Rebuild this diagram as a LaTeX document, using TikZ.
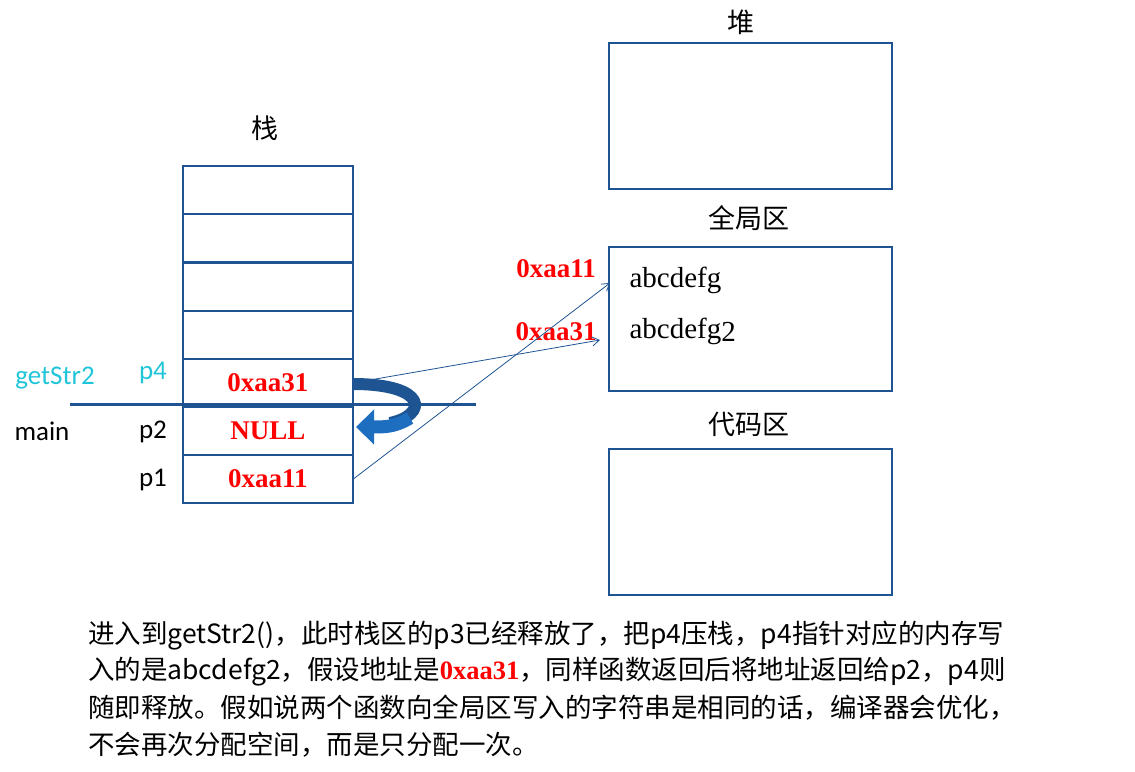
\documentclass[tikz,border=0pt]{standalone}
\usepackage{fontspec}
\setmainfont{Liberation Serif}
\newfontfamily\cjk{Noto Sans CJK SC}
\newfontfamily\calfnt{Carlito}
\usetikzlibrary{arrows.meta}
\definecolor{bl}{HTML}{1F5493}
\definecolor{ar}{HTML}{1E6EC0}
\definecolor{cy}{HTML}{1FC5D8}
\begin{document}
\begin{tikzpicture}[x=1pt,y=-1pt,
 cell/.style={draw=bl,line width=1.6pt,minimum width=170pt,minimum height=48pt,inner sep=0,anchor=north west},
 box/.style={draw=bl,line width=1.6pt,minimum width=283pt,minimum height=146pt,inner sep=0,anchor=north west},
 val/.style={text=red,font=\fontsize{27}{30}\selectfont\bfseries},
 lab/.style={font=\fontsize{29}{32}\selectfont},
 side/.style={font=\calfnt\fontsize{27}{30}\selectfont},
 cn/.style={font=\cjk\fontsize{27}{30}\selectfont},
 txt/.style={anchor=west,inner sep=0,font=\cjk\fontsize{26.5}{30}\selectfont}]
\useasboundingbox (0,0) rectangle (1135,771);
\foreach \i/\y in {1/165,2/213,3/262,4/310,5/358,6/406,7/454}{
 \node[cell] (c\i) at (182,\y) {};}
\node[val] at (c5) {0xaa31};
\node[val] at (c6) {NULL};
\node[val] at (c7) {0xaa11};
\node[cn] (zh) at (265,128) {栈};
\draw[bl,line width=3pt] (70,404) -- (476,404);
\node[side,text=cy] (gs) at (55,378) {getStr2};
\node[side,text=cy] (p4) at (153,373) {p4};
\node[side] (mn) at (42,431) {main};
\node[side] (p2) at (153,432) {p2};
\node[side] (p1) at (153,480) {p1};
\node[box] (heap) at (608,42) {};
\node[box,minimum height=144pt] (glob) at (608,246) {};
\node[box] (code) at (608,448) {};
\node[cn] at (741,22) {堆};
\node[cn] at (749,218) {全局区};
\node[cn] at (749,424) {代码区};
\node[lab,anchor=west] (s1) at (626,280) {abcdefg};
\node[lab,anchor=west] (s2) at (626,331) {abcdefg\raisebox{-3pt}{2}};
\node[val] (a11) at (556,269) {0xaa11};
\node[val] (a31) at (556,332) {0xaa31};
\coordinate (t11) at (610,283);
\coordinate (t31) at (600,340);
\draw[bl,line width=0.8pt,-{Straight Barb[length=7pt,width=9pt]}] (c5.east) -- (t31);
\draw[bl,line width=0.8pt,-{Straight Barb[length=7pt,width=9pt]}] (c7.east) -- (t11);
\draw[draw=bl,line width=12pt] (353,384) .. controls (428,384) and (428,415) .. (390,423);
\draw[ar,line width=13pt,-{Triangle[length=18pt,width=34pt]}] (410,418) .. controls (395,427) and (385,427) .. (356,427);
\node[txt] at (88,636) {进入到getStr2()，此时栈区的p3已经释放了，把p4压栈，p4指针对应的内存写};
\node[txt] at (88,672) {入的是abcdefg2，假设地址是{\fontspec{Liberation Serif}\bfseries\color{red}0xaa31}，同样函数返回后将地址返回给p2，p4则};
\node[txt] at (88,708) {随即释放。假如说两个函数向全局区写入的字符串是相同的话，编译器会优化，};
\node[txt] at (88,745) {不会再次分配空间，而是只分配一次。};
\end{tikzpicture}
\end{document}
